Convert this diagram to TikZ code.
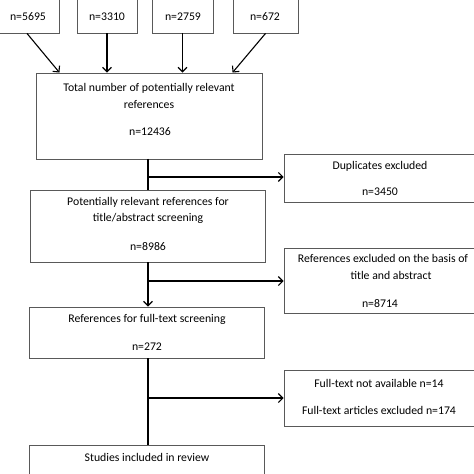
\documentclass[tikz,border=0pt]{standalone}
\usepackage{fontspec}
\setmainfont{Carlito}
\usetikzlibrary{arrows.meta}
\begin{document}
\begin{tikzpicture}[x=1bp,y=-1bp,
  box/.style={draw=black!65,line width=0.9bp,inner sep=0,fill=white},
  txt/.style={anchor=base,inner sep=0,font=\fontsize{11.8}{14}\selectfont},
  conn/.style={draw=black,line width=1.1bp},
  arr/.style={conn,-{Straight Barb[length=4.5bp,width=9bp,line width=1.1bp]}}]
\useasboundingbox (0,0) rectangle (474,474);
\clip (0,0) rectangle (474,474);
\fill[white] (0,0) rectangle (474,474);
% top boxes
\node[box,minimum width=64bp,minimum height=38bp] (b1) at (27,14) {};
\node[box,minimum width=60bp,minimum height=38bp] (b2) at (107,14) {};
\node[box,minimum width=61bp,minimum height=38bp] (b3) at (182.5,14) {};
\node[box,minimum width=65bp,minimum height=38bp] (b4) at (265.5,14) {};
% main column
\node[box,minimum width=226bp,minimum height=86bp] (tot) at (149,116) {};
\node[box,minimum width=235bp,minimum height=72bp] (pot) at (147.5,226) {};
\node[box,minimum width=235bp,minimum height=51bp] (fts) at (146.5,332.5) {};
\node[box,minimum width=235bp,minimum height=45bp] (stu) at (146.5,467.5) {};
% exclusion column
\node[box,minimum width=206bp,minimum height=48bp] (dup) at (387,178) {};
\node[box,minimum width=206bp,minimum height=65bp] (rex) at (387,280.5) {};
\node[box,minimum width=206bp,minimum height=56bp] (fte) at (387,398) {};
% texts
\node[txt] (t1) at (28,21) {n=5695};
\node[txt] (t2) at (107,21) {n=3310};
\node[txt] (t3) at (183,21) {n=2759};
\node[txt] (t4) at (265,21) {n=672};
\node[txt] (tot1) at (149,92) {Total number of potentially relevant};
\node[txt] (tot2) at (149,109) {references};
\node[txt] (tot3) at (150,136) {n=12436};
\node[txt] (dup1) at (380,170) {Duplicates excluded};
\node[txt] (dup2) at (380,196) {n=3450};
\node[txt] (pot1) at (148,206) {Potentially relevant references for};
\node[txt] (pot2) at (148,222) {title/abstract screening};
\node[txt] (pot3) at (148,250) {n=8986};
\node[txt] (rex1) at (383,262) {References excluded on the basis of};
\node[txt] (rex2) at (391,279) {title and abstract};
\node[txt] (rex3) at (380,307) {n=8714};
\node[txt] (fts1) at (147,322) {References for full-text screening};
\node[txt] (fts2) at (147,350) {n=272};
\node[txt] (fte1) at (379,387) {Full-text not available n=14};
\node[txt] (fte2) at (379,414) {Full-text articles excluded n=174};
\node[txt] (stu1) at (147,461) {Studies included in review};
% connectors
\draw[arr] (b1.south) -- (tot.north -| b1.east);
\draw[arr] (b2.south) -- (b2.south |- tot.north);
\draw[arr] (b3.south) -- (b3.south |- tot.north);
\draw[arr] (b4.south) -- (tot.north -| b4.west);
\coordinate (top) at (148,159);
\coordinate (j1) at (148,177);
\coordinate (j2) at (148,281);
\coordinate (j3) at (148,398);
\draw[conn] (top) -- (top |- pot.north);
\draw[arr] (j1) -- (j1 -| dup.west);
\draw[arr] (top |- pot.south) -- (top |- fts.north);
\draw[arr] (j2) -- (j2 -| rex.west);
\draw[conn] (top |- fts.south) -- (top |- stu.north);
\draw[arr] (j3) -- (j3 -| fte.west);
\end{tikzpicture}
\end{document}
